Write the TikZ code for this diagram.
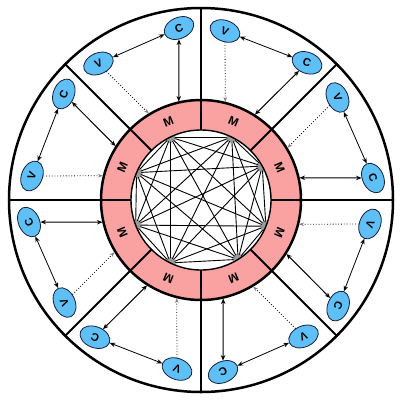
\documentclass[tikz,border=0pt]{standalone}
\usepackage{fontspec}
\setmainfont{Liberation Sans}
\usetikzlibrary{shapes.geometric,arrows.meta}
\definecolor{ringpink}{RGB}{250,162,162}
\definecolor{cvblue}{RGB}{94,192,246}
\definecolor{cvedge}{RGB}{20,30,60}
\tikzset{
  cv/.style={ellipse, draw=cvedge, line width=0.8pt, fill=cvblue,
    minimum width=31pt, minimum height=21pt, inner sep=0pt,
    font=\fontsize{11}{12}\selectfont\bfseries},
  mlabel/.style={font=\fontsize{12}{13}\selectfont\bfseries, inner sep=0pt},
  cvarrow/.style={line width=0.8pt,
    {Stealth[length=5.5pt,width=4.5pt]}-{Stealth[length=5.5pt,width=4.5pt]}},
  cmarrow/.style={line width=1pt,
    {Stealth[length=5.5pt,width=4.5pt]}-{Stealth[length=5.5pt,width=4.5pt]}},
  vmarrow/.style={line width=0.8pt, dotted,
    -{Stealth[length=5pt,width=3.5pt,gray]}},
  chord/.style={line width=0.9pt,
    {Stealth[length=6pt,width=3pt,gray!80]}-{Stealth[length=6pt,width=3pt,gray!80]}},
  sectorline/.style={line width=1.8pt},
  ringcircle/.style={circle, draw, inner sep=0pt},
}
\begin{document}
\begin{tikzpicture}[x=1pt,y=1pt]
\useasboundingbox (-201,-200) rectangle (202,200);
\fill[white] (-201,-200) rectangle (202,200);
% pink ring
\fill[ringpink, even odd rule] (0,0) circle (100) (0,0) circle (70);
% inner complete graph
\foreach \i/\a in {1/29,2/64,3/116,4/157,5/201,6/244,7/302,8/338}
  \coordinate (p\i) at (\a:70);
\foreach \i in {1,...,7}{
  \pgfmathtruncatemacro\s{\i+1}
  \foreach \j in {\s,...,8} \draw[chord] (p\i) -- (p\j);
}
% circles
\node[ringcircle, line width=1.4pt, minimum size=140pt] (inner) at (0,0) {};
% sector lines
\foreach \k in {0,...,7}{
  \coordinate (si\k) at (45*\k:70);
  \coordinate (so\k) at (45*\k:192);
  \draw[sectorline] (si\k) -- (so\k);
}
\node[ringcircle, line width=2.5pt, minimum size=200pt] (ring) at (0,0) {};
\node[ringcircle, line width=2.5pt, minimum size=384pt] (outer) at (0,0) {};
% M labels
\foreach \k in {0,...,7}
  \node[mlabel, rotate=45*\k+22.5-90] (m\k) at (45*\k+22.5:85) {M};
% C and V nodes with arrows
\foreach \k in {0,...,7}{
  \pgfmathsetmacro\rot{-66.2+45*\k}
  \node[cv, rotate=\rot] (c\k) at (45*\k+7.29:173.4) {C};
  \node[cv, rotate=\rot] (v\k) at (45*\k+36.92:170.7) {V};
  \coordinate (rc\k) at (45*\k+12.72:101);
  \coordinate (rv\k) at (45*\k+31.1:101);
  \draw[cvarrow] (c\k) -- (v\k);
  \draw[cmarrow] (c\k) -- (rc\k);
  \draw[vmarrow] (v\k) -- (rv\k);
}
\end{tikzpicture}
\end{document}
